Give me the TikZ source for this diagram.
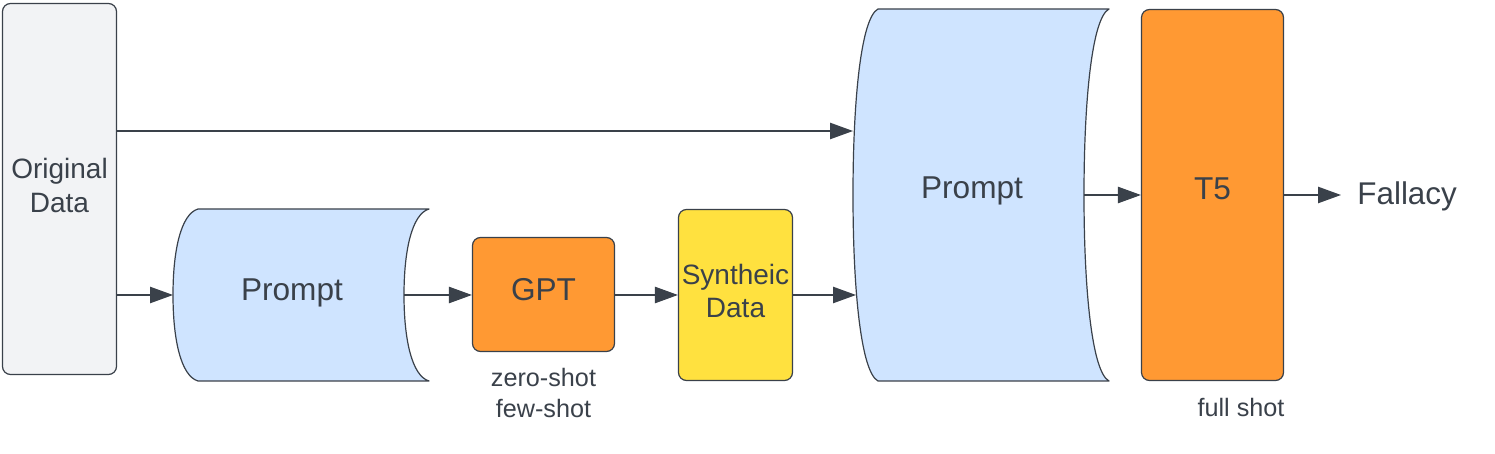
\documentclass[tikz,border=0pt]{standalone}
\usepackage{fontspec}
\setmainfont{Liberation Sans}
\usetikzlibrary{arrows.meta}
\definecolor{ink}{HTML}{3A414A}
\definecolor{blueF}{HTML}{CFE4FF}
\definecolor{orangeF}{HTML}{FF9933}
\definecolor{yellowF}{HTML}{FFE13F}
\definecolor{greyF}{HTML}{F2F3F5}
\tikzset{
  box/.style={draw=ink,line width=0.6pt,rounded corners=4pt,inner sep=0pt,text=ink,align=center},
  curved/.style={draw=ink,line width=0.6pt,fill=blueF,line join=round},
  lab/.style={text=ink,inner sep=0pt,align=center},
  conn/.style={draw=ink,line width=0.6pt,-{Triangle[length=11.5pt,width=8.2pt]}}
}
\begin{document}
\begin{tikzpicture}[x=0.5pt,y=-0.5pt]
\useasboundingbox (0,0) rectangle (1495,454);
% curved prompt shapes
\draw[curved] (429,209) -- (198,209) .. controls (181,214) and (173,250) .. (173,295)
  .. controls (173,340) and (181,376) .. (198,381) -- (429,381)
  .. controls (412,376) and (404,340) .. (404,295) .. controls (404,250) and (412,214) .. (429,209) -- cycle;
\draw[curved] (1109,9) -- (878,9) .. controls (861,18) and (853,100) .. (853,195)
  .. controls (853,290) and (861,372) .. (878,381) -- (1109,381)
  .. controls (1092,372) and (1084,290) .. (1084,195) .. controls (1084,100) and (1092,18) .. (1109,9) -- cycle;
% boxes
\node[box,fill=greyF,minimum width=57pt,minimum height=185.5pt,font=\fontsize{14}{16.5}\selectfont] (orig) at (59.5,189) {};
\node[lab,font=\fontsize{14}{17}\selectfont] (origt) at (59.5,185.5) {Original\\Data};
\node[box,fill=orangeF,minimum width=71pt,minimum height=57pt] (gpt) at (543.5,294.5) {};
\node[lab,font=\fontsize{15.8}{19}\selectfont] (gptt) at (543.5,290) {GPT};
\node[box,fill=yellowF,minimum width=57pt,minimum height=85.5pt] (syn) at (735.5,295) {};
\node[lab,font=\fontsize{14}{16.5}\selectfont] (synt) at (735.5,291) {Syntheic\\Data};
\node[box,fill=orangeF,minimum width=71pt,minimum height=185.5pt] (t5) at (1212.5,195) {};
% labels
\node[lab,font=\fontsize{15.8}{19}\selectfont] (p1) at (292,293) {Prompt};
\node[lab,font=\fontsize{15.8}{19}\selectfont] (p2) at (972,191) {Prompt};
\node[lab,font=\fontsize{15.8}{19}\selectfont] (t5t) at (1212.5,189) {T5};
\node[lab,font=\fontsize{15.7}{19}\selectfont,anchor=west] (fal) at (1357,196) {Fallacy};
\node[lab,font=\fontsize{12.6}{15.5}\selectfont] (zs) at (543.5,393) {zero-shot\\few-shot};
\node[lab,font=\fontsize{12.6}{15}\selectfont] (fs) at (1241,407) {full shot};
% ports
\coordinate (p1in) at (173,295);
\coordinate (p1out) at (404,295);
\coordinate (p2a) at (853,131);
\coordinate (p2b) at (856,295);
\coordinate (p2out) at (1084,195);
\coordinate (falin) at (1341,195);
% connectors
\draw[conn] (orig.east |- p2a) -- (p2a);
\draw[conn] (orig.east |- p1in) -- (p1in);
\draw[conn] (p1out) -- (gpt.west |- p1out);
\draw[conn] (gpt.east |- p1out) -- (syn.west |- p1out);
\draw[conn] (syn.east |- p2b) -- (p2b);
\draw[conn] (p2out) -- (t5.west |- p2out);
\draw[conn] (t5.east |- p2out) -- (falin);
\end{tikzpicture}
\end{document}
